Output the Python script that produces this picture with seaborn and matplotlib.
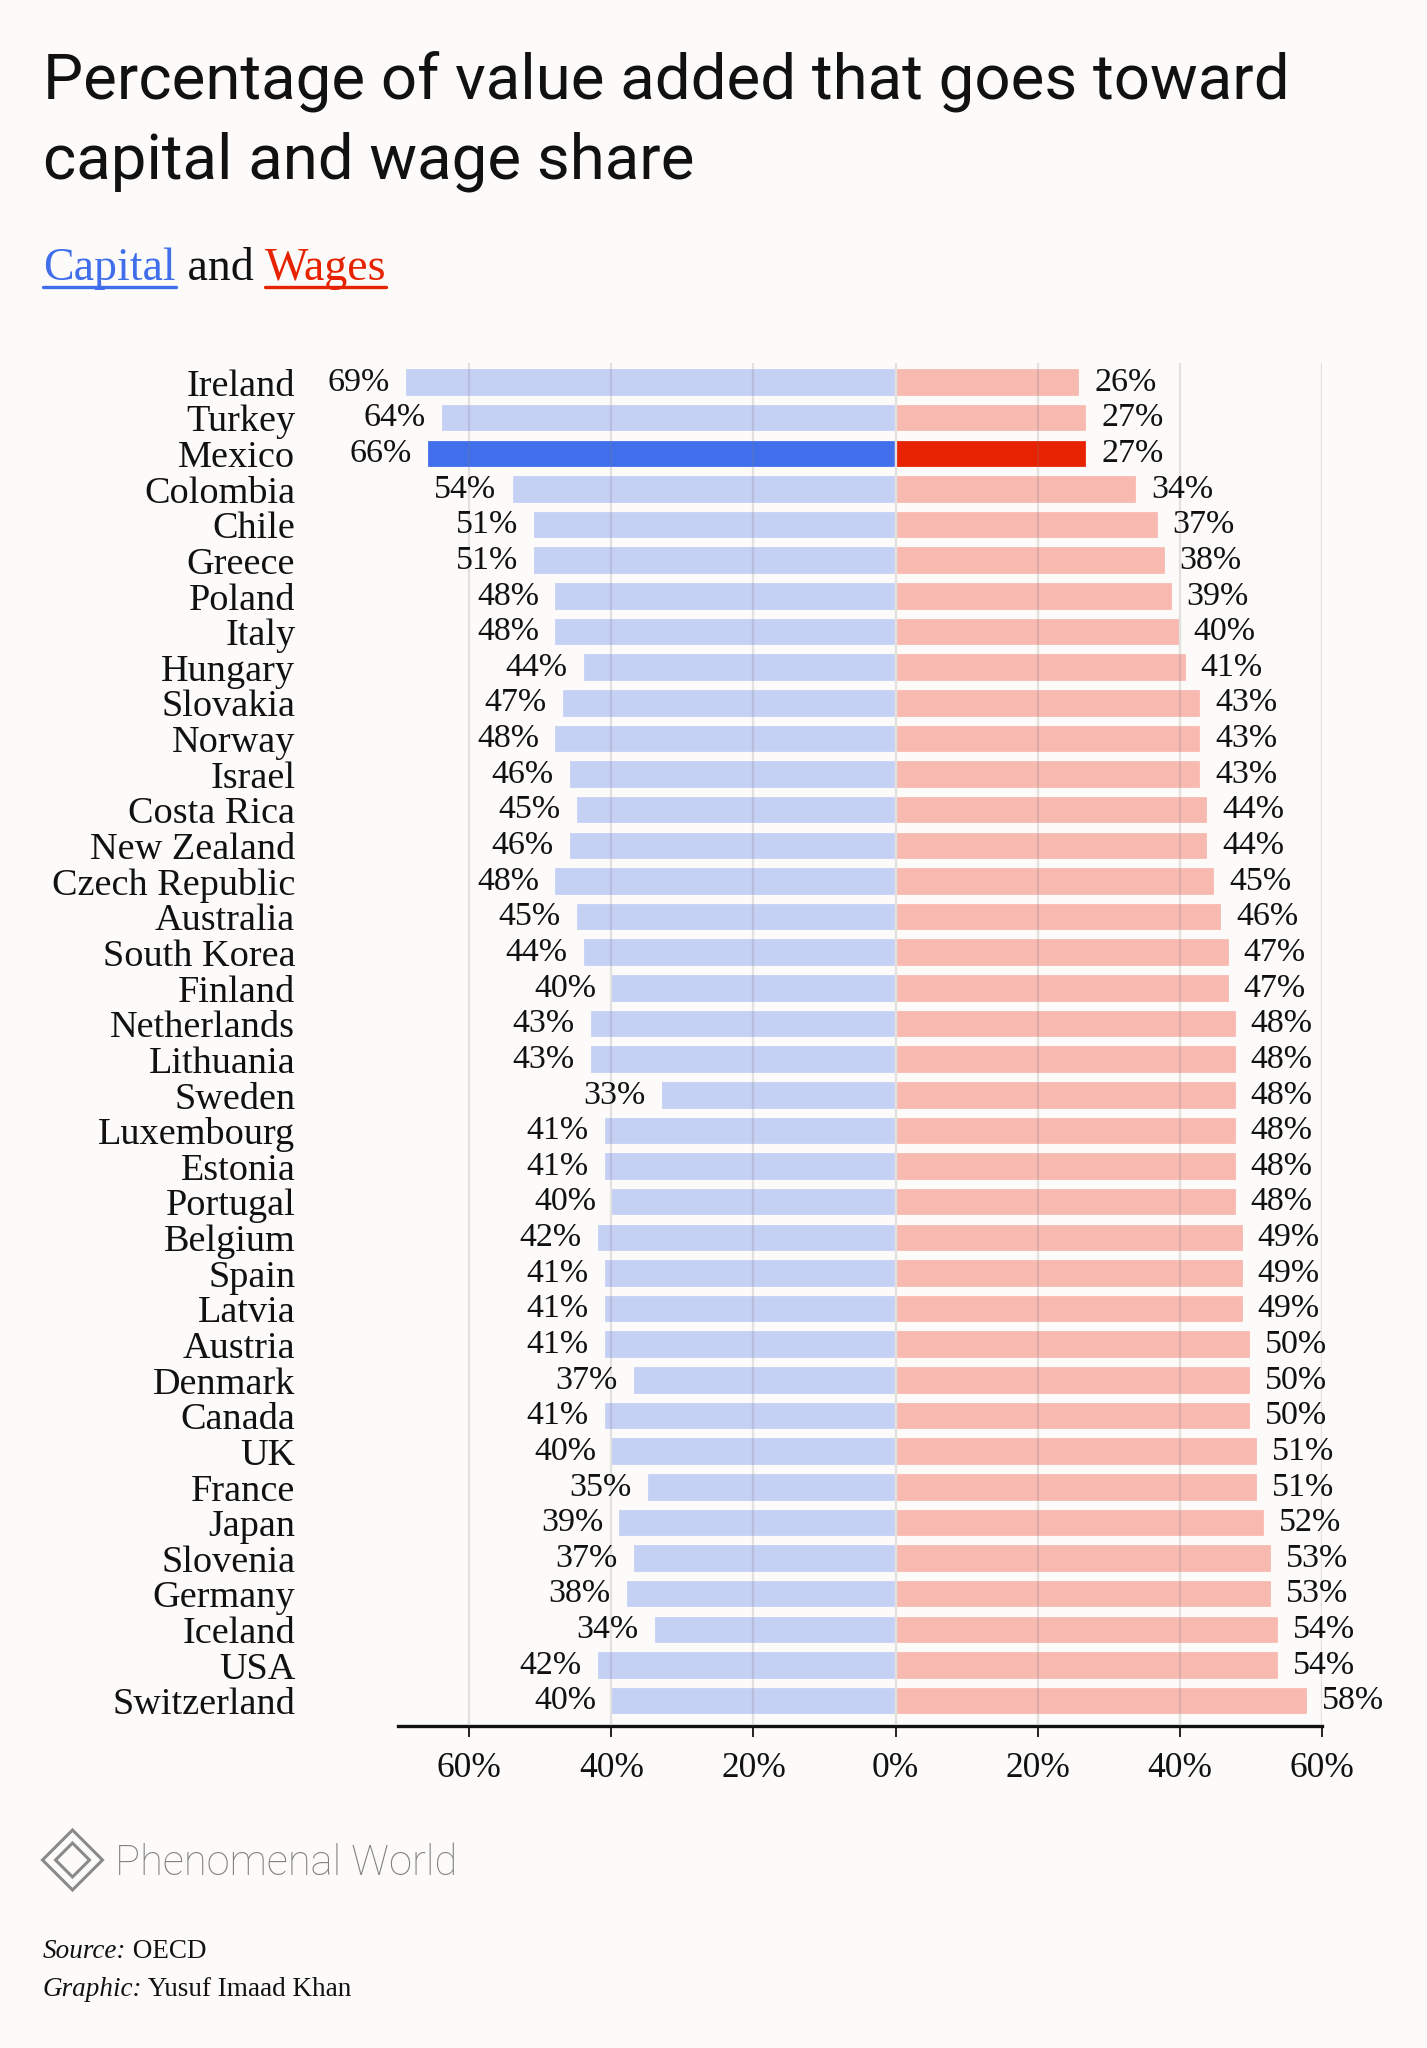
import numpy as np
import pandas as pd
import matplotlib
matplotlib.use('Agg')
import matplotlib.pyplot as plt
import seaborn as sns
from matplotlib.lines import Line2D
from matplotlib.patches import Polygon

#-----------------------------------------------------------------------------------------------------------------------
"""Data"""
countries = ['Ireland', 'Turkey', 'Mexico', 'Colombia', 'Chile', 'Greece', 'Poland', 'Italy', 'Hungary',
             'Slovakia', 'Norway', 'Israel', 'Costa Rica', 'New Zealand', 'Czech Republic', 'Australia',
             'South Korea', 'Finland', 'Netherlands', 'Lithuania', 'Sweden', 'Luxembourg', 'Estonia',
             'Portugal', 'Belgium', 'Spain', 'Latvia', 'Austria', 'Denmark', 'Canada', 'UK', 'France',
             'Japan', 'Slovenia', 'Germany', 'Iceland', 'USA', 'Switzerland']
capital = [69, 64, 66, 54, 51, 51, 48, 48, 44, 47, 48, 46, 45, 46, 48, 45, 44, 40, 43, 43, 33, 41, 41,
           40, 42, 41, 41, 41, 37, 41, 40, 35, 39, 37, 38, 34, 42, 40]
wages = [26, 27, 27, 34, 37, 38, 39, 40, 41, 43, 43, 43, 44, 44, 45, 46, 47, 47, 48, 48, 48, 48, 48,
         48, 49, 49, 49, 50, 50, 50, 51, 51, 52, 53, 53, 54, 54, 58]
highlight = 'Mexico'
xticks = [-60, -40, -20, 0, 20, 40, 60]
xtick_labels = ['60%', '40%', '20%', '0%', '20%', '40%', '60%']

df = pd.DataFrame({'country': countries, 'capital': capital, 'wages': wages})
df['capital_left'] = -df['capital']

#-----------------------------------------------------------------------------------------------------------------------
"""Style"""
BG = '#FCFBFA'
SERIF = 'Liberation Serif'
SANS = 'Roboto'
BLUE_LIGHT = '#C5D0F5'
BLUE = '#416FEC'
RED_LIGHT = '#F8B9B1'
RED = '#E72200'

sns.set_theme(style='white')
plt.rcParams['font.family'] = [SERIF, 'DejaVu Serif']

fig = plt.figure(figsize=(14.27, 20.48), dpi=100, facecolor=BG)
ax = fig.add_axes([0.279, 0.1572, 0.6474, 0.6656])
ax.set_facecolor(BG)

#-----------------------------------------------------------------------------------------------------------------------
"""Bars"""
cap_pal = {c: (BLUE if c == highlight else BLUE_LIGHT) for c in countries}
wage_pal = {c: (RED if c == highlight else RED_LIGHT) for c in countries}

sns.barplot(data=df, x='capital_left', y='country', hue='country', palette=cap_pal, legend=False,
            orient='h', width=0.8, saturation=1, edgecolor=BG, linewidth=1.6, ax=ax)
sns.barplot(data=df, x='wages', y='country', hue='country', palette=wage_pal, legend=False,
            orient='h', width=0.8, saturation=1, edgecolor=BG, linewidth=1.6, ax=ax)

# value labels
for i, (c, w) in enumerate(zip(capital, wages)):
    ax.annotate(f'{c}%', xy=(-c, i), xytext=(-11, 0), textcoords='offset points',
                ha='right', va='center', fontsize=24.5, color='#111111')
    ax.annotate(f'{w}%', xy=(w, i), xytext=(10, 0), textcoords='offset points',
                ha='left', va='center', fontsize=24.5, color='#111111')

#-----------------------------------------------------------------------------------------------------------------------
"""Axes"""
ax.set_xlim(-70, 60)
ax.set_ylim(len(countries) - 0.3, -0.55)
ax.set_xticks(xticks)
ax.set_xticklabels(xtick_labels, fontsize=25.5)
ax.set_yticks(range(len(countries)))
ax.set_yticklabels(countries, fontsize=27.5)
ax.set_xlabel('')
ax.set_ylabel('')
ax.tick_params(axis='y', length=0, pad=74, colors='#111111')
ax.tick_params(axis='x', direction='out', length=8, width=1.3, pad=11, colors='#111111', bottom=True)

for s in ['top', 'right', 'left']:
    ax.spines[s].set_visible(False)
ax.spines['bottom'].set_color('#111111')
ax.spines['bottom'].set_linewidth(2.4)

ax.set_axisbelow(False)
ax.grid(axis='x', color='#7a7a7a', alpha=0.2, linewidth=1.6)
ax.grid(axis='y', visible=False)

#-----------------------------------------------------------------------------------------------------------------------
"""Titles"""
fig.text(43 / 1427, 1 - 98 / 2048, 'Percentage of value added that goes toward', family=SANS,
         fontsize=45.7, color='#111111', va='baseline', ha='left')
fig.text(43 / 1427, 1 - 179 / 2048, 'capital and wage share', family=SANS,
         fontsize=45.7, color='#111111', va='baseline', ha='left')

renderer = fig.canvas.get_renderer()
inv = fig.transFigure.inverted()
x0 = 43 / 1427
y0 = 1 - 280 / 2048
for word, col, under in [('Capital', BLUE, True), (' and ', '#111111', False), ('Wages', RED, True)]:
    t = fig.text(x0, y0, word, fontsize=33, color=col, va='baseline', ha='left')
    bb = t.get_window_extent(renderer).transformed(inv)
    if under:
        fig.add_artist(Line2D([bb.x0, bb.x1], [y0 - 7 / 2048] * 2, color=col, linewidth=2.4,
                              transform=fig.transFigure))
    x0 = bb.x1

#-----------------------------------------------------------------------------------------------------------------------
"""Footer"""
# logo diamonds
cx, cy = 72.5, 1860
for half in [30, 17]:
    pts = [((cx - half) / 1427, 1 - cy / 2048), (cx / 1427, 1 - (cy - half) / 2048),
           ((cx + half) / 1427, 1 - cy / 2048), (cx / 1427, 1 - (cy + half) / 2048)]
    fig.add_artist(Polygon(pts, closed=True, fill=False, edgecolor='#8a8a8a', linewidth=2.2,
                           transform=fig.transFigure))
fig.text(115 / 1427, 1 - 1875 / 2048, 'Phenomenal World', family=SANS, fontweight='light',
         fontsize=30, color='#808080', va='baseline', ha='left')

x0 = 43 / 1427
for y, lab, val in [(1958, 'Source:', ' OECD'), (1996, 'Graphic:', ' Yusuf Imaad Khan')]:
    t = fig.text(x0, 1 - y / 2048, lab, fontsize=19.5, style='italic', color='#111111', va='baseline')
    bb = t.get_window_extent(renderer).transformed(inv)
    fig.text(bb.x1, 1 - y / 2048, val, fontsize=19.5, color='#111111', va='baseline')

fig.savefig('out.png', dpi=100, facecolor=BG)
